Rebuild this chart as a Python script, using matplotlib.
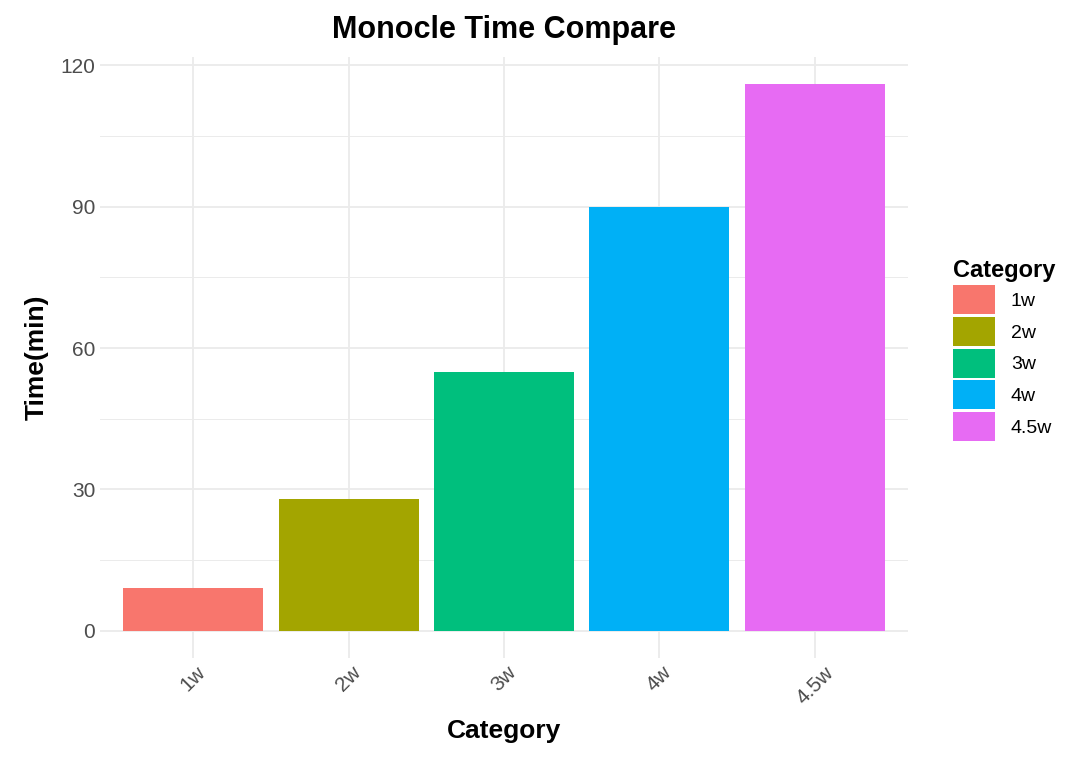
import matplotlib
matplotlib.use("Agg")
import matplotlib.pyplot as plt
from matplotlib.patches import Patch

categories = ["1w", "2w", "3w", "4w", "4.5w"]
values = [9, 28, 55, 90, 116]
colors = ["#F8766D", "#A3A500", "#00BF7D", "#00B0F6", "#E76BF3"]

plt.rcParams['font.family'] = ['Liberation Sans', 'DejaVu Sans']
fig = plt.figure(figsize=(10.8, 7.71), dpi=100)
W, H = 1080, 771
ax = fig.add_axes([100/W, (H-658)/H, 808/W, (658-57)/H])
x = list(range(len(categories)))
ax.bar(x, values, width=0.9, color=colors, zorder=3)
ax.set_xlim(-0.6, len(categories)-0.4)
ax.set_ylim(-5.8, 121.8)
ax.set_yticks([0, 30, 60, 90, 120])
ax.set_yticks([15, 45, 75, 105], minor=True)
ax.set_xticks(x)
ax.set_xticklabels(categories, rotation=45, fontsize=15, color="#4d4d4d")
ax.tick_params(axis='y', labelsize=15, labelcolor="#4d4d4d")
ax.tick_params(which='both', length=0)
ax.grid(True, which='major', color="#ebebeb", linewidth=1.3, zorder=0)
ax.grid(True, which='minor', axis='y', color="#ebebeb", linewidth=0.7, zorder=0)
for s in ax.spines.values():
    s.set_visible(False)
ax.set_xlabel("Category", fontsize=19, fontweight='bold', labelpad=8)
ax.set_ylabel("Time(min)", fontsize=19, fontweight='bold', labelpad=8)
ax.set_title("Monocle Time Compare", fontsize=22, fontweight='bold', pad=14)

handles = [Patch(facecolor=c, label=l) for c, l in zip(colors, categories)]
leg = fig.legend(handles=handles, title="Category", loc='upper left',
                 bbox_to_anchor=(935/W, 1-242/H), frameon=False,
                 fontsize=14, title_fontproperties={'weight': 'bold', 'size': 17},
                 handlelength=2.2, handleheight=1.9, labelspacing=0.15, alignment='left')
fig.savefig("out.png", dpi=100)
